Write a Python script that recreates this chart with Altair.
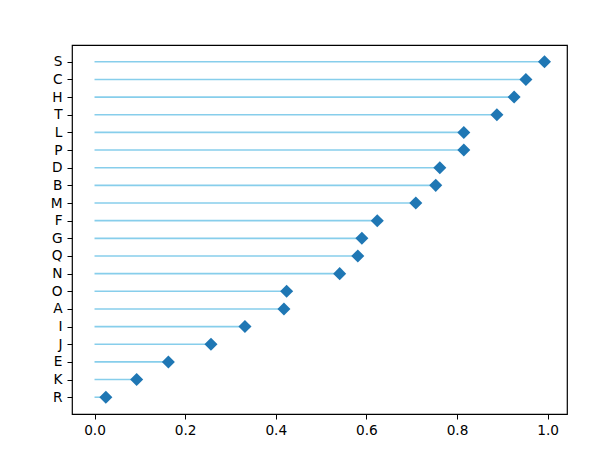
import altair as alt
import pandas as pd

categories = ["S", "C", "H", "T", "L", "P", "D", "B", "M", "F",
              "G", "Q", "N", "O", "A", "I", "J", "E", "K", "R"]
values = [0.993, 0.952, 0.926, 0.888, 0.815, 0.815, 0.762, 0.753, 0.709, 0.624,
          0.590, 0.581, 0.541, 0.424, 0.418, 0.332, 0.257, 0.163, 0.093, 0.025]
x_ticks = [0.0, 0.2, 0.4, 0.6, 0.8, 1.0]

df = pd.DataFrame({"group": categories, "value": values, "zero": [0.0] * len(values)})

font = "DejaVu Sans"
x_scale = alt.Scale(domain=[-0.0497, 1.0427], nice=False, zero=False)
y_scale = alt.Scale(type="point", domain=categories, padding=0.95)

x_axis = alt.Axis(values=x_ticks, format=".1f", grid=False, domain=False,
                  tickColor="black", tickSize=5, tickWidth=1, labelPadding=4,
                  labelFont=font, labelFontSize=13.7, labelColor="black", title=None,
                  labelFlush=False)
y_axis = alt.Axis(grid=False, domain=False, tickColor="black", tickSize=5, tickWidth=1,
                  labelPadding=5, labelFont=font, labelFontSize=13.7, labelColor="black",
                  title=None)

base = alt.Chart(df)

stems = base.mark_rule(color="#87CEEB", strokeWidth=1.6).encode(
    y=alt.Y("group:N", scale=y_scale, axis=y_axis),
    x=alt.X("zero:Q", scale=x_scale, axis=x_axis),
    x2="value:Q",
)

points = base.mark_point(shape="diamond", filled=True, color="#1f77b4", size=170, opacity=1).encode(
    y=alt.Y("group:N", scale=y_scale, axis=y_axis),
    x=alt.X("value:Q", scale=x_scale, axis=x_axis),
)

chart = (stems + points).properties(
    width=495,
    height=369,
    autosize=alt.AutoSizeParams(type="none"),
    padding={"left": 64, "top": 37, "right": 30, "bottom": 40},
).configure(
    background="white",
    view=alt.ViewConfig(stroke="black", strokeWidth=1.2, strokeOpacity=1),
)

chart.save("out.html", embed_options={"renderer": "svg", "actions": False})
